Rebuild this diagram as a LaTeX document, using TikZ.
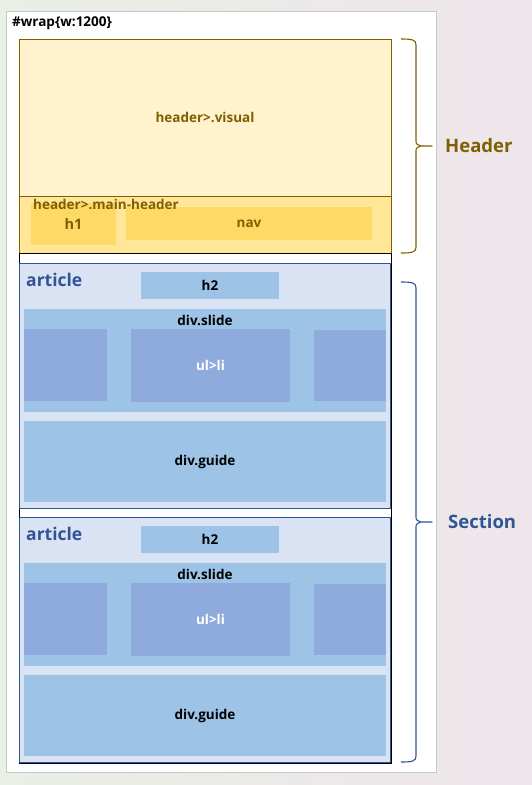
\documentclass[tikz,border=0pt]{standalone}
\usepackage{fontspec}
\setmainfont{Open Sans}
\usetikzlibrary{positioning}
\usetikzlibrary{calc}
\definecolor{pGold}{HTML}{7F6000}
\definecolor{pCream}{HTML}{FFF2CC}
\definecolor{pSand}{HTML}{FFE699}
\definecolor{pYellow}{HTML}{FFD966}
\definecolor{pNavy}{HTML}{2F5597}
\definecolor{pPale}{HTML}{DAE3F3}
\definecolor{pSky}{HTML}{9DC3E6}
\definecolor{pBlue}{HTML}{8FAADC}
\definecolor{pGray}{HTML}{C8C8C8}
\definecolor{pMint}{HTML}{E8EFE4}
\definecolor{pRose}{HTML}{EEE5EB}

\begin{document}
\begin{tikzpicture}[x=1pt, y=-1pt,
  box/.style={anchor=north west, inner sep=0pt, outer sep=0pt, line width=0.9pt},
  lab/.style={inner sep=0pt, font=\bfseries\fontsize{13.5}{15}\selectfont},
  big/.style={inner sep=0pt, font=\bfseries\fontsize{18.5}{21}\selectfont},
  brace/.style={line width=1.1pt, line join=round}]
  \useasboundingbox (0,0) rectangle (532,785);
  \shade[left color=pMint, right color=pRose] (0,0) rectangle (532,785);

  % outer wrapper
  \node[box, draw=pGray, fill=white, minimum width=430pt, minimum height=761pt] (wrap) at (6,11) {};
  \node[lab, anchor=west] (wraplab) at (12,23) {\#wrap\{w:1200\}};

  % header
  \node[box, draw=pGold, fill=pCream, minimum width=372pt, minimum height=157pt, lab, text=pGold] (visual) at (19,39) {header>.visual};
  \node[box, draw=pGold, fill=pSand, minimum width=372pt, minimum height=57pt] (mainhdr) at (19,196) {};
  \node[box, fill=pYellow, minimum width=85pt, minimum height=42pt, lab, text=pGold, font=\bfseries\fontsize{14.5}{16}\selectfont] (h1) at (31,203) {h1};
  \node[box, fill=pYellow, minimum width=246pt, minimum height=33pt, lab, text=pGold] (nav) at (126,207) {nav};
  \node[lab, anchor=west, text=pGold] (mainlab) at (33,204) {header>.main-header};

  % section wrapper
  \node[box, draw=black, fill=white, minimum width=372pt, minimum height=510pt] (sect) at (19,253) {};

  % articles
  \foreach \i/\dy in {1/0, 2/254}{
    \node[box, draw=pNavy, fill=pPale, minimum width=371pt, minimum height=245pt] (art\i) at (19,263+\dy) {};
    \node[big, anchor=west, text=pNavy, font=\bfseries\fontsize{17.5}{20}\selectfont] (artlab\i) at (26,280+\dy) {article};
    \node[box, fill=pSky, minimum width=138pt, minimum height=27pt, lab] (h2\i) at (141,272+\dy) {h2};
    \node[box, fill=pSky, minimum width=362pt, minimum height=103pt] (slide\i) at (24,309+\dy) {};
    \node[lab] (slidelab\i) at (205,320+\dy) {div.slide};
    \node[box, fill=pBlue, minimum width=83pt, minimum height=72pt] (lileft\i) at (24,329+\dy) {};
    \node[box, fill=pBlue, minimum width=159pt, minimum height=73pt, lab, text=white] (li\i) at (131,329+\dy) {ul>li};
    \node[box, fill=pBlue, minimum width=72pt, minimum height=71pt] (liright\i) at (314,330+\dy) {};
    \node[box, fill=pSky, minimum width=362pt, minimum height=81pt, lab] (guide\i) at (24,421+\dy) {div.guide};
  }

  % braces
  \coordinate (hdrtip) at (432,146);
  \draw[brace, pGold] (401,39) .. controls (413,39) and (416,40) .. (416,45) -- (416,140)
    .. controls (416,144) .. (421,146) -- (hdrtip) -- (421,146) .. controls (416,148) .. (416,152)
    -- (416,247) .. controls (416,252) and (413,253) .. (401,253);
  \node[big, right=13pt of hdrtip, text=pGold] (hdrlab) {Header};

  \coordinate (sectip) at (432,522);
  \draw[brace, pNavy] (401,282) .. controls (413,282) and (416,283) .. (416,288) -- (416,516)
    .. controls (416,520) .. (421,522) -- (sectip) -- (421,522) .. controls (416,524) .. (416,528)
    -- (416,756) .. controls (416,761) and (413,762) .. (401,762);
  \node[big, right=16pt of sectip, text=pNavy] (seclab) {Section};
\end{tikzpicture}
\end{document}
